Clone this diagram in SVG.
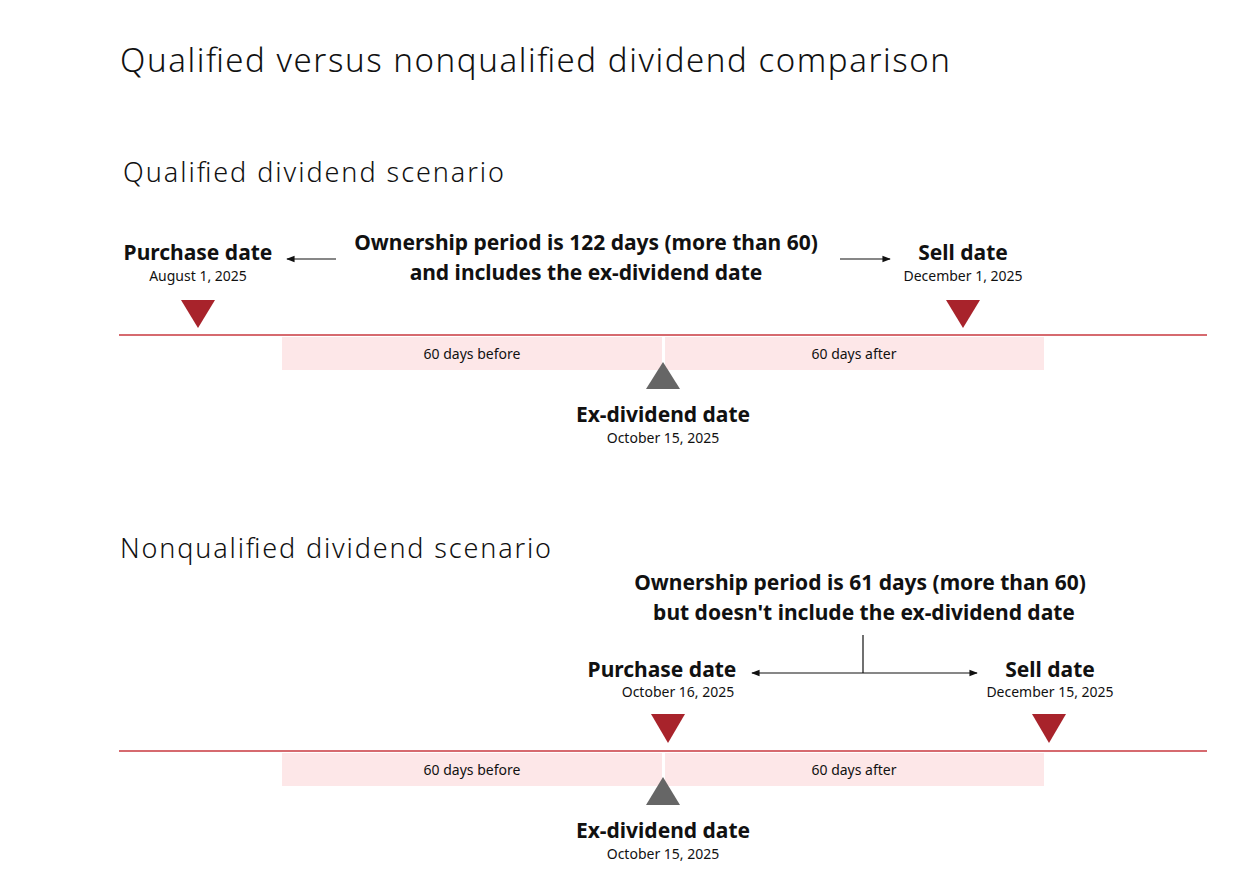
<svg xmlns="http://www.w3.org/2000/svg" width="1253" height="878" viewBox="0 0 1253 878">
<style>
text{font-family:"Noto Sans","Open Sans",sans-serif;fill:#111}
.t{font-size:33px;font-weight:300}
.s{font-size:27px;font-weight:300}
.b{font-size:21px;font-weight:700;text-anchor:middle}
.d{font-size:14px;text-anchor:middle}
.band{fill:#fde7e8}
.tl{stroke:#c8393f;stroke-width:1.5}
.red{fill:#a8232b}
.gray{fill:#666}
.c{stroke:#111;stroke-width:1.2;fill:none}
</style>
<defs><marker id="a" viewBox="0 0 10 10" refX="9" refY="5" markerWidth="7" markerHeight="7" orient="auto-start-reverse"><path d="M0,1L10,5L0,9z" fill="#111"/></marker></defs>
<rect width="1253" height="878" fill="#fff"/>
<text class="t" x="120" y="72" textLength="830" lengthAdjust="spacing">Qualified versus nonqualified dividend comparison</text>
<g id="s1">
<text class="s" x="123" y="182" textLength="381" lengthAdjust="spacing">Qualified dividend scenario</text>
<rect class="band" x="282" y="337" width="380" height="33"/><rect class="band" x="665" y="337" width="379" height="33"/>
<line class="tl" x1="119" y1="335" x2="1207" y2="335"/>
<text class="d" x="472" y="359">60 days before</text><text class="d" x="854" y="359">60 days after</text>
<g id="p1"><text class="b" x="198" y="260">Purchase date</text><text class="d" x="198" y="281">August 1, 2025</text><path class="red" d="M181,300h34l-17,28z"/></g>
<g id="sl1"><text class="b" x="963" y="260">Sell date</text><text class="d" x="963" y="281">December 1, 2025</text><path class="red" d="M946,300h34l-17,28z"/></g>
<g id="e1"><path class="gray" d="M646,389h34l-17,-27z"/><text class="b" x="663" y="422">Ex-dividend date</text><text class="d" x="663" y="443">October 15, 2025</text></g>
<g id="o1"><text class="b" x="586" y="250">Ownership period is 122 days (more than 60)</text><text class="b" x="586" y="280">and includes the ex-dividend date</text></g>
</g>
<g id="s2">
<text class="s" x="120" y="558" textLength="431" lengthAdjust="spacing">Nonqualified dividend scenario</text>
<rect class="band" x="282" y="753" width="380" height="33"/><rect class="band" x="665" y="753" width="379" height="33"/>
<line class="tl" x1="119" y1="751" x2="1207" y2="751"/>
<text class="d" x="472" y="775">60 days before</text><text class="d" x="854" y="775">60 days after</text>
<g id="p2"><text class="b" x="662" y="677">Purchase date</text><text class="d" x="678" y="697">October 16, 2025</text><path class="red" d="M651,714h34l-17,29z"/></g>
<g id="sl2"><text class="b" x="1050" y="677">Sell date</text><text class="d" x="1050" y="697">December 15, 2025</text><path class="red" d="M1032,714h34l-17,29z"/></g>
<g id="e2"><path class="gray" d="M646,805h34l-17,-28z"/><text class="b" x="663" y="838">Ex-dividend date</text><text class="d" x="663" y="859">October 15, 2025</text></g>
<g id="o2"><text class="b" x="860" y="590">Ownership period is 61 days (more than 60)</text><text class="b" x="864" y="620">but doesn't include the ex-dividend date</text></g>
</g>
<g id="connectors">
<line class="c" x1="336" y1="259" x2="287" y2="259" marker-end="url(#a)"/>
<line class="c" x1="840" y1="259" x2="890" y2="259" marker-end="url(#a)"/>
<line class="c" x1="752" y1="673" x2="977" y2="673" marker-start="url(#a)" marker-end="url(#a)"/>
<line class="c" x1="863" y1="635" x2="863" y2="673"/>
</g>
</svg>
